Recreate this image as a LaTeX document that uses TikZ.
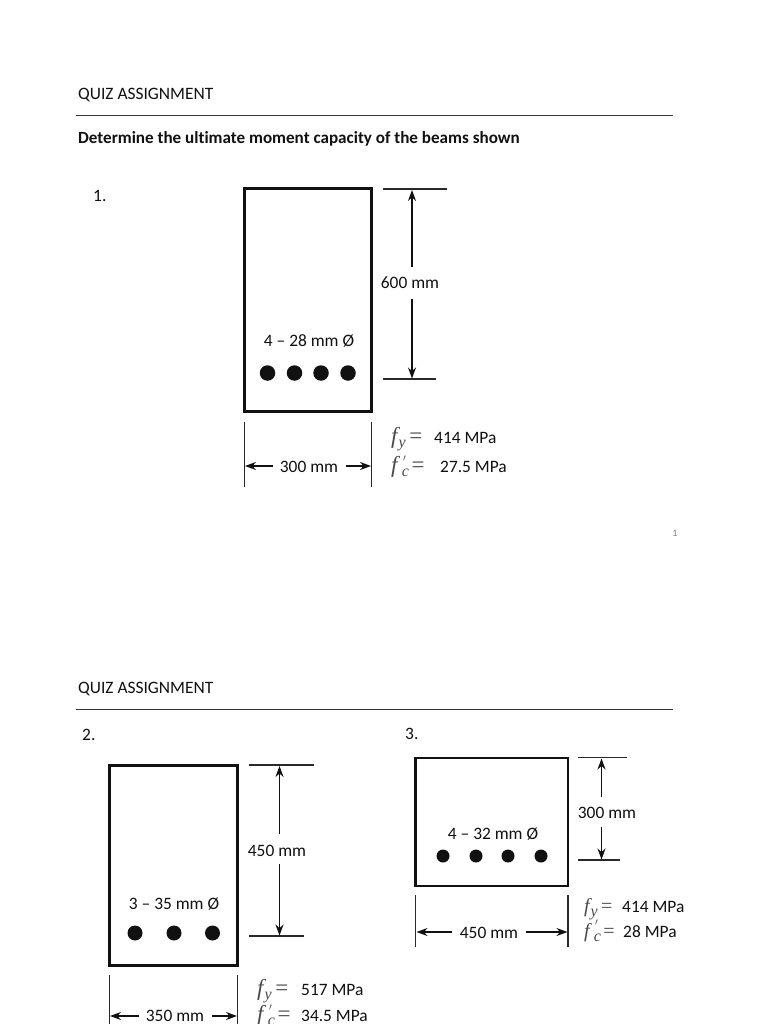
\documentclass[tikz,border=0pt]{standalone}
\usepackage{fontspec}
\setmainfont[Ligatures=NoCommon]{Carlito}
\newfontfamily\serifmath{Liberation Serif}
\usetikzlibrary{arrows.meta}
\definecolor{ink}{HTML}{111111}
\definecolor{mathgray}{HTML}{4A4A4A}
\tikzset{
  txt/.style={inner sep=0pt,text=ink,font=\fontsize{17.4}{20}\selectfont},
  lefttxt/.style={txt,anchor=base west},
  centertxt/.style={txt,anchor=center},
  beam/.style={draw=ink,fill=white,inner sep=0pt,minimum width=0pt},
  bar/.style={circle,fill=ink,inner sep=0pt},
  ext/.style={draw=ink!90,line width=1.3pt},
  dimarrow/.style={draw=ink,line width=1.3pt,-{Stealth[length=11pt,width=8pt]}},
  headrule/.style={draw=ink!85,line width=0.9pt},
  mathlbl/.style={inner sep=0pt,text=mathgray,anchor=base west,font=\serifmath\fontsize{23}{25}\selectfont}
}
\newcommand{\fylabel}{\textit{f}\kern-1.5pt\raisebox{-4pt}{\fontsize{16}{18}\selectfont\textit{y}}\kern3.5pt=}
\newcommand{\fclabel}{\textit{f}\kern3pt\raisebox{6pt}{\fontsize{14}{16}\selectfont$'$}\kern-4.5pt\raisebox{-4pt}{\fontsize{16}{18}\selectfont\textit{c}}\kern2.5pt=}
\newcommand{\beamrect}[6]{%
  \coordinate (#1tl) at (#2,#3); \coordinate (#1br) at (#4,#5);
  \draw[beam,line width=#6] (#1tl) rectangle (#1br);}
\newcommand{\dimseg}[3]{%
  \coordinate (#1a) at (#2); \coordinate (#1b) at (#3);
  \draw[ext] (#1a) -- (#1b);}
\begin{document}
\begin{tikzpicture}[x=1pt,y=-1pt]
\useasboundingbox (0,0) rectangle (768,1024);
\fill[white] (0,0) rectangle (768,1024);

% page 1 text
\node[lefttxt] (q1) at (78,99.7) {QUIZ ASSIGNMENT};
\coordinate (r1a) at (76,115.5); \coordinate (r1b) at (673,115.5);
\draw[headrule] (r1a) -- (r1b);
\node[lefttxt] (det) at (78,143.7) {\textbf{\fontsize{17.1}{20}\selectfont Determine the ultimate moment capacity of the beams shown}};
\node[lefttxt] (n1) at (93,201.5) {1.};
\node[inner sep=0pt,text=gray,font=\fontsize{10}{11}\selectfont] (pg) at (675,533.5) {1};

% page 2 text
\node[lefttxt] (q2) at (78,693.5) {QUIZ ASSIGNMENT};
\coordinate (r2a) at (76,709.7); \coordinate (r2b) at (673,709.7);
\draw[headrule] (r2a) -- (r2b);
\node[lefttxt] (n2) at (82,740) {2.};
\node[lefttxt] (n3) at (405,739) {3.};

% beam 1
\beamrect{ba}{244}{189}{371.7}{411.7}{3pt}
\node[bar,minimum size=15.5pt] (a1) at (267.5,373) {};
\node[bar,minimum size=15.5pt] (a2) at (294.5,373) {};
\node[bar,minimum size=15.5pt] (a3) at (321,373) {};
\node[bar,minimum size=15.5pt] (a4) at (348,373) {};
\node[centertxt] (alab) at (309,341) {4 – 28 mm Ø};
\dimseg{at}{383,189}{447,189}
\dimseg{ab}{383,379}{436,379}
\node[centertxt] (ah) at (410,282.5) {600 mm};
\draw[dimarrow] (412,267) -- (412,190);
\draw[dimarrow] (412,299) -- (412,378.5);
\dimseg{al}{244.5,422}{244.5,487}
\dimseg{ar}{371.5,422}{371.5,487}
\node[centertxt] (aw) at (309,466.5) {300 mm};
\draw[dimarrow] (273,466) -- (245,466);
\draw[dimarrow] (346,466) -- (371,466);
\node[mathlbl] (afy) at (391,443) {\fylabel};
\node[mathlbl] (afc) at (391,472.5) {\fclabel};
\node[lefttxt] (afyv) at (434,443) {414 MPa};
\node[lefttxt] (afcv) at (440,472.5) {27.5 MPa};

% beam 2
\beamrect{bb}{109}{765}{237.7}{965.7}{3pt}
\node[bar,minimum size=15pt] (b1) at (135,933) {};
\node[bar,minimum size=15pt] (b2) at (174,933) {};
\node[bar,minimum size=15pt] (b3) at (212.5,933) {};
\node[centertxt] (blab) at (174,904) {3 – 35 mm Ø};
\dimseg{bt}{249,765}{314,765}
\dimseg{bbt}{249,936}{304,936}
\node[centertxt] (bh) at (277,851) {450 mm};
\draw[dimarrow] (279.5,834) -- (279.5,766);
\draw[dimarrow] (279.5,864) -- (279.5,935.5);
\dimseg{bl}{109.5,975}{109.5,1024}
\dimseg{br}{237.5,975}{237.5,1024}
\node[centertxt] (bw) at (175,1016) {350 mm};
\draw[dimarrow] (139,1016) -- (110,1016);
\draw[dimarrow] (212,1016) -- (237,1016);
\node[mathlbl] (bfy) at (257,995) {\fylabel};
\node[mathlbl] (bfc) at (257,1021.5) {\fclabel};
\node[lefttxt] (bfyv) at (301,995) {517 MPa};
\node[lefttxt] (bfcv) at (301,1021) {34.5 MPa};

% beam 3
\beamrect{bc}{415.5}{758}{568}{886}{2.2pt}
\node[bar,minimum size=13pt] (c1) at (443,856) {};
\node[bar,minimum size=13pt] (c2) at (476,856) {};
\node[bar,minimum size=13pt] (c3) at (508,856) {};
\node[bar,minimum size=13pt] (c4) at (541,856) {};
\node[centertxt] (clab) at (493,834) {4 – 32 mm Ø};
\dimseg{ct}{578,757.5}{627,757.5}
\dimseg{cb}{578,860}{620,860}
\node[centertxt] (ch) at (607,812.5) {300 mm};
\draw[dimarrow] (601.5,797) -- (601.5,758.5);
\draw[dimarrow] (601.5,827) -- (601.5,859.5);
\dimseg{cl}{415.5,895}{415.5,947}
\dimseg{cr}{568,895}{568,947}
\node[centertxt] (cw) at (489,932.5) {450 mm};
\draw[dimarrow] (452,932) -- (416.5,932);
\draw[dimarrow] (526,932) -- (567.5,932);
\node[mathlbl,font=\serifmath\fontsize{20}{22}\selectfont] (cfy) at (584,912) {\fylabel};
\node[mathlbl,font=\serifmath\fontsize{20}{22}\selectfont] (cfc) at (584,937) {\fclabel};
\node[lefttxt] (cfyv) at (622,912) {414 MPa};
\node[lefttxt] (cfcv) at (623,937) {28 MPa};
\end{tikzpicture}
\end{document}
